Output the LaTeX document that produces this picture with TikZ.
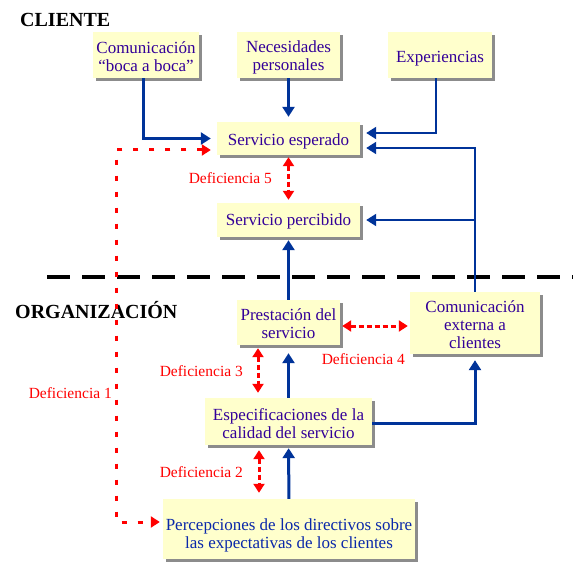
\documentclass[tikz,border=0pt]{standalone}
\usepackage{fontspec}
\setmainfont{Liberation Serif}
\usepackage{xcolor}
\usetikzlibrary{positioning,shapes,arrows.meta,shadows,calc}

\definecolor{boxfill}{RGB}{255,255,204}
\definecolor{linkblue}{RGB}{0,51,153}
\definecolor{boxtext}{RGB}{51,0,153}
\definecolor{perctext}{RGB}{10,40,170}

% box text, set a little below the middle
\newcommand{\boxtext}[2][3.5pt]{\raisebox{-#1}[\height][\depth]{\begin{tabular}{@{}c@{}}#2\end{tabular}}}

\begin{document}
\begin{tikzpicture}[x=1pt, y=-1pt,
    box/.style={rectangle, fill=boxfill, text=boxtext, inner sep=0pt, font=\fontsize{17}{18}\selectfont, drop shadow={shadow xshift=3pt, shadow yshift=-3pt, fill=black!45, opacity=1}},
    link/.style={draw=linkblue, line width=3pt, -{Triangle[length=10pt,width=12pt]}},
    gap/.style={draw=red, line width=3pt, dash pattern=on 5pt off 3pt, {Triangle[length=9pt,width=11pt]}-{Triangle[length=9pt,width=11pt]}},
    gapline/.style={draw=red, line width=3pt, dash pattern=on 5pt off 11pt, {Triangle[length=9pt,width=11pt]}-{Triangle[length=9pt,width=11pt]}},
    gaplabel/.style={text=red, inner sep=0pt, font=\fontsize{15.5}{17}\selectfont},
    title/.style={inner sep=0pt, font=\fontsize{20}{22}\selectfont\bfseries}
]
    \useasboundingbox (0,0) rectangle (573,564);

    \node[title, anchor=west] (cliente) at (20,20) {CLIENTE};
    \node[title, anchor=west] (organizacion) at (15,310) {ORGANIZACIÓN};

    \coordinate (sepL) at (47,277);
    \coordinate (sepR) at (573,277);
    \draw[line width=4pt, dash pattern=on 23pt off 12pt] (sepL) -- (sepR);

    \node[box, minimum width=106pt, minimum height=46pt] (boca) at (146,55) {\boxtext[4pt]{Comunicación\\``boca a boca''}};
    \node[box, minimum width=103pt, minimum height=46pt] (necesidades) at (288.5,55) {\boxtext[3pt]{Necesidades\\personales}};
    \node[box, minimum width=104pt, minimum height=46pt] (experiencias) at (440,55) {\boxtext{Experiencias}};
    \node[box, minimum width=143pt, minimum height=33pt] (esperado) at (288.5,138.5) {\boxtext[3pt]{Servicio esperado}};
    \node[box, minimum width=143pt, minimum height=34pt] (percibido) at (288.5,220) {\boxtext[2pt]{Servicio percibido}};
    \node[box, minimum width=103pt, minimum height=45pt] (prestacion) at (288.5,322.5) {\boxtext{Prestación del\\servicio}};
    \node[box, minimum width=130pt, minimum height=62pt] (externa) at (475,323) {\boxtext[4pt]{Comunicación\\externa a\\clientes}};
    \node[box, minimum width=167pt, minimum height=47pt] (especificaciones) at (288.5,421.5) {\boxtext[4.5pt]{Especificaciones de la\\calidad del servicio}};
    \node[box, text=perctext, minimum width=252pt, minimum height=60pt] (percepciones) at (289,529) {\boxtext[7pt]{Percepciones de los directivos sobre\\las expectativas de los clientes}};

    % client side
    \draw[link, shorten >=6pt] ([xshift=-3pt]boca.south) |- (esperado.west);
    \draw[link, shorten >=5pt] (necesidades) -- (esperado);
    \draw[link, line width=2pt, shorten >=6pt] ([xshift=-4pt]experiencias.south) |- ([yshift=5.5pt]esperado.east);
    \draw[link, line width=2pt, shorten >=6pt] (externa.north) |- ([yshift=-9.5pt]esperado.east);
    \draw[link, line width=2pt, shorten >=6pt] (externa.north |- percibido.east) -- (percibido.east);

    % organisation side
    \draw[link, shorten >=3pt] (prestacion) -- (percibido);
    \draw[link, shorten >=8pt] (especificaciones) -- (prestacion);
    \draw[link, shorten >=6pt] ([yshift=-1.5pt]especificaciones.east) -| (externa.south);
    \draw[link, shorten >=3pt] (percepciones) -- (especificaciones);

    % gaps
    \draw[gap, shorten <=2pt, shorten >=3pt] (esperado.south) -- (percibido.north);
    \draw[gap, shorten <=3pt, shorten >=5pt] ([xshift=-30.5pt]prestacion.south) -- ([xshift=-30.5pt]prestacion.south |- especificaciones.north);
    \draw[gap, shorten <=5pt, shorten >=6pt] ([xshift=-29.5pt]especificaciones.south) -- ([xshift=-29.5pt]especificaciones.south |- percepciones.north);
    \draw[gap, shorten <=2pt, shorten >=2pt] ([yshift=-3.5pt]prestacion.east) -- ([yshift=-3.5pt]prestacion.east -| externa.west);
    \coordinate (gapbend) at (116,300);
    \draw[gapline, shorten <=6pt, shorten >=3pt] ([yshift=-11.5pt]esperado.west) -| (gapbend) |- ([yshift=7pt]percepciones.west);

    \foreach \n/\x/\y in {5/272/178, 3/243/371, 2/243/472, 4/405/359, 1/112/393} {
        \node[gaplabel, anchor=east] (def\n) at (\x,\y) {Deficiencia \n};
    }
\end{tikzpicture}
\end{document}
